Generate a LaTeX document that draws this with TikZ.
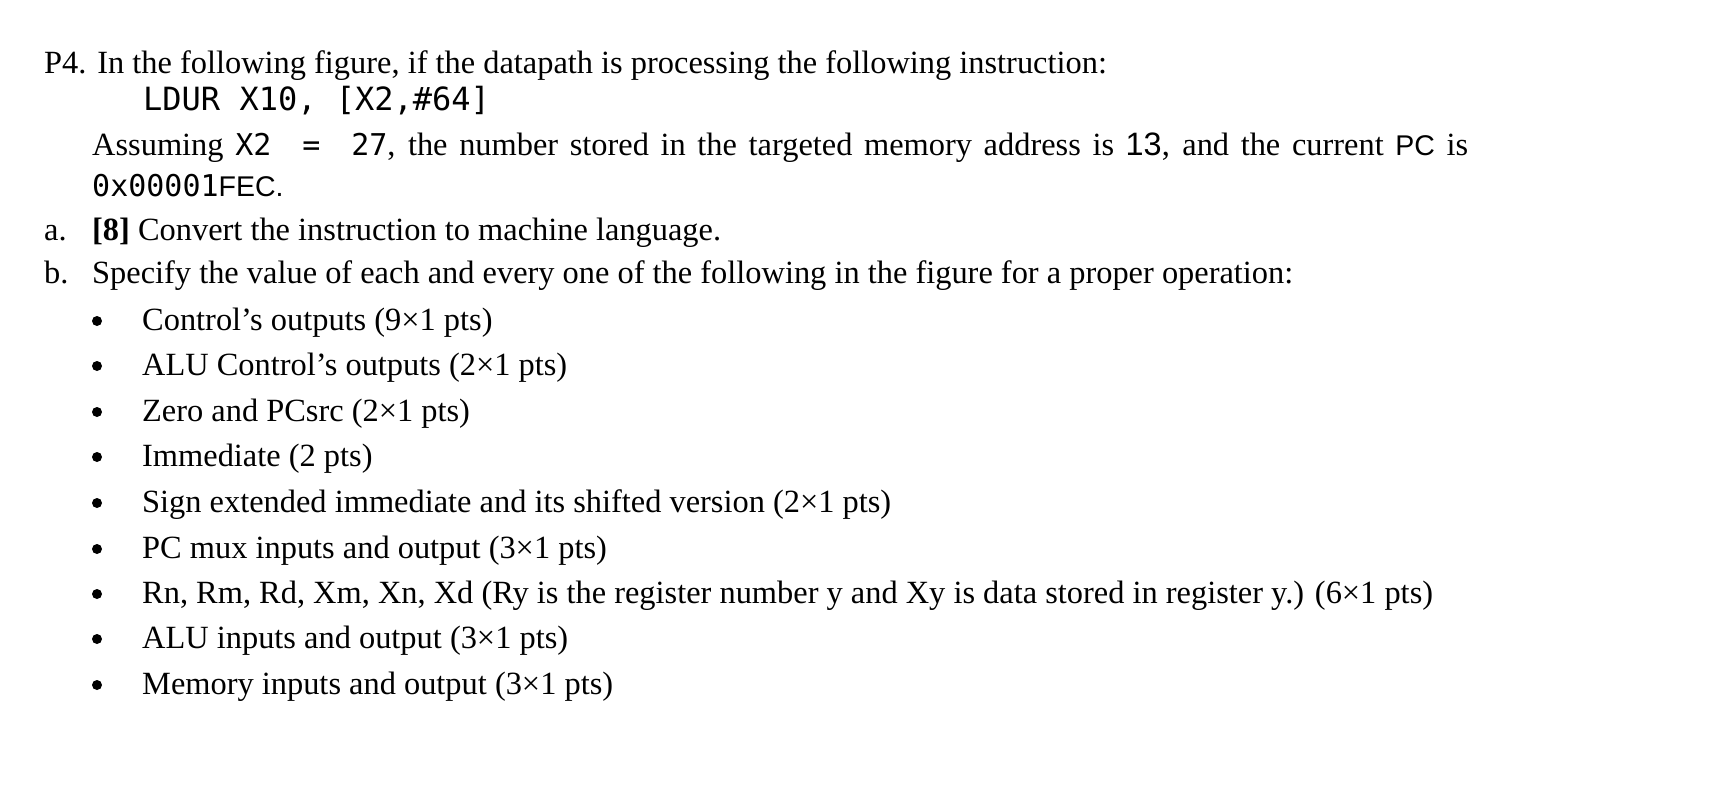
\documentclass[tikz,border=0pt]{standalone}
\usepackage{fontspec}
\setmainfont{Liberation Serif}
\newfontfamily\monof{DejaVu Sans Mono}
\newfontfamily\sansf{Liberation Sans}
\begin{document}
\begin{tikzpicture}[x=1pt,y=-1pt,
  txt/.style={anchor=base west,inner sep=0pt,font=\fontsize{32.4}{38}\selectfont},
  bul/.style={circle,fill=black,inner sep=0pt,minimum size=10pt}]
\useasboundingbox[fill=white] (0,0) rectangle (1710,806);
\node[txt] (l1) at (44,73) {P4. In the following figure, if the datapath is processing the following instruction:};
\node[txt] (l2) at (143,110) {\monof\fontsize{32}{38}\selectfont LDUR X10, [X2,\#64]};
\node[txt] (l3) at (92,155) {\makebox[1376pt][s]{Assuming {\monof\fontsize{30}{38}\selectfont X2 \,=\, 27}, the number stored in the targeted memory address is {\sansf 13}, and the current {\sansf\fontsize{28.5}{38}\selectfont PC} is}};
\node[txt] (l4) at (92,196) {{\monof\fontsize{30}{38}\selectfont 0x00001}{\sansf\fontsize{28.5}{38}\selectfont FEC.}};
\node[txt] (la) at (44,240) {a.};
\node[txt] (ta) at (92,240) {\textbf{[8]} Convert the instruction to machine language.};
\node[txt] (lb) at (44,283) {b.};
\node[txt] (tb) at (92,283) {Specify the value of each and every one of the following in the figure for a proper operation:};
\foreach \y/\t [count=\i] in {
 330/{Control’s outputs (9×1 pts)},
 375/{ALU Control’s outputs (2×1 pts)},
 421/{Zero and PCsrc (2×1 pts)},
 466/{Immediate (2 pts)},
 512/{Sign extended immediate and its shifted version (2×1 pts)},
 558/{PC mux inputs and output (3×1 pts)},
 603/{Rn, Rm, Rd, Xm, Xn, Xd (Ry is the register number y and Xy is data stored in register y.) (6×1 pts)},
 648/{ALU inputs and output (3×1 pts)},
 694/{Memory inputs and output (3×1 pts)}}{
  \node[bul] (b\i) at (97,\y-9) {};
  \node[txt] (t\i) at (142,\y) {\t};
}
\end{tikzpicture}
\end{document}
